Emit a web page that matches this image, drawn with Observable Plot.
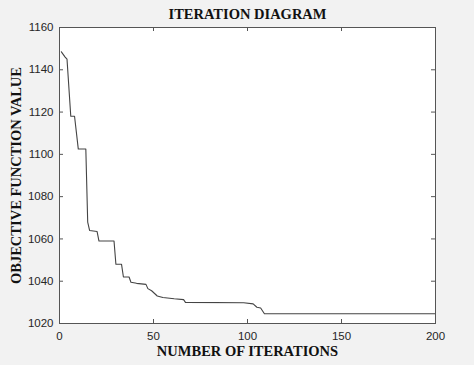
<!DOCTYPE html>
<html>
<head>
<meta charset="utf-8">
<script src="https://cdn.jsdelivr.net/npm/d3@7"></script>
<script src="https://cdn.jsdelivr.net/npm/@observablehq/plot@0.6"></script>
<style>
  html, body { margin: 0; padding: 0; background: #f2f2f2; }
  #chart svg { display: block; }
</style>
</head>
<body>
<div id="chart"></div>
<script>
const iterations = [1, 3, 4, 6, 8, 10, 14, 15, 16, 20, 21, 29, 30, 33, 34, 37, 38, 41, 46, 47, 49, 52, 55, 61, 66, 67, 98, 103, 105, 107, 109, 200];
const objective = [1148.5, 1146, 1145, 1118, 1118, 1102.5, 1102.5, 1068, 1064, 1063.5, 1059, 1059, 1048, 1048, 1042, 1042, 1039.5, 1039, 1038.5, 1036.5, 1035.5, 1033, 1032.3, 1031.7, 1031.3, 1030, 1029.8, 1029.3, 1027.7, 1027.3, 1024.6, 1024.6];
const xTicks = [0, 50, 100, 150, 200];
const yTicks = [1020, 1040, 1060, 1080, 1100, 1120, 1140, 1160];
const title = "ITERATION DIAGRAM";
const xLabel = "NUMBER OF ITERATIONS";
const yLabel = "OBJECTIVE FUNCTION VALUE";

const data = iterations.map((x, i) => ({x, y: objective[i]}));
const W = 474, H = 365;
const mL = 59, mR = 39, mT = 27, mB = 42;
const innerH = H - mT - mB, innerW = W - mL - mR;
const tickLen = 4;
const axisColor = "#555";
const serif = "'Liberation Serif', 'Times New Roman', serif";

const chart = Plot.plot({
  width: W,
  height: H,
  marginLeft: mL,
  marginRight: mR,
  marginTop: mT,
  marginBottom: mB,
  style: {background: "#f2f2f2", fontFamily: "'Liberation Sans', Arial, sans-serif", fontSize: "11px", color: "#262626"},
  x: {domain: [0, 200]},
  y: {domain: [1020, 1160]},
  marks: [
    Plot.frame({fill: "white", stroke: "none"}),
    Plot.axisX(xTicks, {tickSize: 0, tickPadding: 8, tickFormat: "d", label: null, fontSize: 11.5}),
    Plot.axisY(yTicks, {tickSize: 0, tickPadding: 6, tickFormat: "d", label: null, fontSize: 11.5}),
    // inward ticks: bottom, top, left, right
    Plot.ruleX(xTicks, {insetTop: innerH - tickLen, stroke: axisColor}),
    Plot.ruleX(xTicks, {insetBottom: innerH - tickLen, stroke: axisColor}),
    Plot.ruleY(yTicks, {insetRight: innerW - tickLen, stroke: axisColor}),
    Plot.ruleY(yTicks, {insetLeft: innerW - tickLen, stroke: axisColor}),
    Plot.line(data, {x: "x", y: "y", stroke: "#444", strokeWidth: 1.1}),
    Plot.frame({stroke: axisColor, strokeWidth: 1}),
    Plot.text([title], {frameAnchor: "top", dy: -19, text: d => d, fontFamily: serif, fontWeight: "bold", fontSize: 14.5, fill: "#111"}),
    Plot.text([xLabel], {frameAnchor: "bottom", dy: 32, text: d => d, fontFamily: serif, fontWeight: "bold", fontSize: 14.5, fill: "#111"}),
    Plot.text([yLabel], {frameAnchor: "left", dx: -43, rotate: -90, textAnchor: "middle", text: d => d, fontFamily: serif, fontWeight: "bold", fontSize: 14.5, fill: "#111"})
  ]
});
document.getElementById("chart").appendChild(chart);
</script>
</body>
</html>
